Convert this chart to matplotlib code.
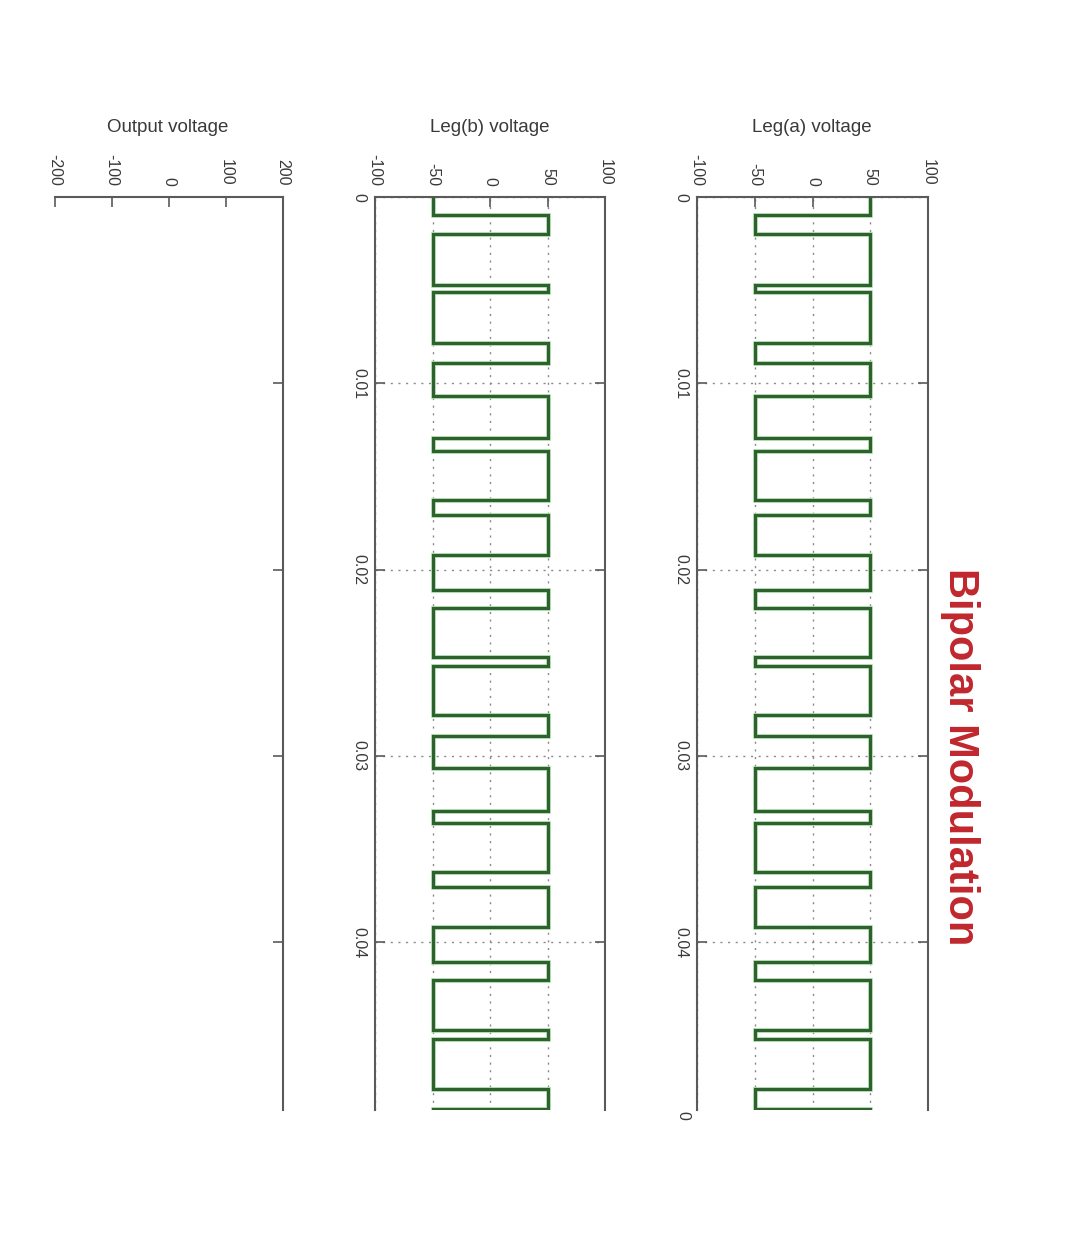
import matplotlib
matplotlib.use("Agg")
import matplotlib.pyplot as plt

plt.rcParams['font.family'] = ['Liberation Sans', 'DejaVu Sans']

# ---- data ----
# switching instants (s); first edge 0, last edge = end of plotted window
switch_edges = [0.0, 0.00097, 0.00199, 0.00473, 0.00509, 0.00785, 0.00889, 0.01068,
                0.01292, 0.01364, 0.01624, 0.01704, 0.01919, 0.02108, 0.02206,
                0.02469, 0.02516, 0.02780, 0.02892, 0.03066, 0.03294, 0.03362,
                0.03622, 0.03703, 0.03918, 0.04106, 0.04204, 0.04473, 0.04518,
                0.04786, 0.04894, 0.0490]
leg_a = [50, -50, 50, -50, 50, -50, 50, -50, 50, -50, 50, -50, 50, -50, 50,
         -50, 50, -50, 50, -50, 50, -50, 50, -50, 50, -50, 50, -50, 50, -50, 50]
leg_b = [-50, 50, -50, 50, -50, 50, -50, 50, -50, 50, -50, 50, -50, 50, -50,
         50, -50, 50, -50, 50, -50, 50, -50, 50, -50, 50, -50, 50, -50, 50, -50]

time_ticks = [0, 0.01, 0.02, 0.03, 0.04]
time_labels = ['0', '0.01', '0.02', '0.03', '0.04']
leg_ticks = [-100, -50, 0, 50, 100]
leg_labels = ['-100', '-50', '0', '50', '100']
out_ticks = [-200, -100, 0, 100, 200]
out_labels = ['-200', '-100', '0', '100', '200']
t_end = 0.049

W, H = 1070, 1253
fig = plt.figure(figsize=(W / 100, H / 100), dpi=100)
fig.patch.set_facecolor('white')

SPINE = '#5a5a5a'
TXT = '#3a3a3a'
GREEN = '#2e612e'
HALO = '#b5e6b5'


def px_axes(l, r, t, b):
    return fig.add_axes([l / W, 1 - b / H, (r - l) / W, (b - t) / H])


def style_leg(ax, data, title, cx):
    ax.stairs(data, switch_edges, orientation='horizontal', baseline=None,
              color=HALO, lw=3.4, zorder=2)
    ax.stairs(data, switch_edges, orientation='horizontal', baseline=None,
              color=GREEN, lw=2.3, zorder=3)
    ax.set_xlim(-100, 100)
    ax.set_ylim(t_end, 0)
    ax.xaxis.tick_top()
    ax.set_xticks(leg_ticks)
    ax.set_xticklabels(leg_labels)
    ax.set_yticks(time_ticks)
    ax.set_yticklabels(time_labels)
    ax.tick_params(axis='x', direction='in', length=7, width=1.2, color=SPINE,
                   labelsize=11.5, labelcolor=TXT, pad=8, top=True, bottom=False)
    ax.tick_params(axis='y', direction='in', length=7, width=1.2, color=SPINE,
                   labelsize=11.5, labelcolor=TXT, pad=6, left=True, right=True)
    for lb in ax.get_xticklabels():
        lb.set_rotation(-90)
        lb.set_va('bottom')
        lb.set_ha('center')
    for lb in ax.get_yticklabels():
        lb.set_rotation(-90)
        lb.set_va('center')
        lb.set_ha('right')
    ax.grid(True, linestyle=(0, (1.5, 4)), color='#8a8a8a', lw=1.0, zorder=1)
    for s in ['top', 'left', 'right']:
        ax.spines[s].set_color(SPINE)
        ax.spines[s].set_linewidth(1.5)
    ax.spines['bottom'].set_visible(False)
    fig.text(cx / W, 1 - 128 / H, title, ha='center', va='center',
             fontsize=13.5, color=TXT)


ax_a = px_axes(697, 928, 197, 1110)
style_leg(ax_a, leg_a, 'Leg(a) voltage', 812)
fig.text(683 / W, 1 - 1115 / H, '0', rotation=-90, ha='center', va='center',
         fontsize=11.5, color=TXT)

ax_b = px_axes(375, 605, 197, 1110)
style_leg(ax_b, leg_b, 'Leg(b) voltage', 490)

# Output voltage panel (no trace visible in the reference)
ax_c = px_axes(55, 283, 197, 1110)
ax_c.set_xlim(-200, 200)
ax_c.set_ylim(t_end, 0)
ax_c.xaxis.tick_top()
ax_c.set_xticks(out_ticks)
ax_c.set_xticklabels(out_labels)
ax_c.set_yticks(time_ticks)
ax_c.tick_params(axis='x', direction='in', length=7, width=1.2, color=SPINE,
                 labelsize=11.5, labelcolor=TXT, pad=8)
ax_c.tick_params(axis='y', direction='in', length=7, width=1.2, color=SPINE,
                 left=False, right=True, labelleft=False, labelright=False)
for lb in ax_c.get_xticklabels():
    lb.set_rotation(-90)
    lb.set_va('bottom')
    lb.set_ha('center')
ax_c.spines['left'].set_visible(False)
ax_c.spines['bottom'].set_visible(False)
for s in ['top', 'right']:
    ax_c.spines[s].set_color(SPINE)
    ax_c.spines[s].set_linewidth(1.5)
fig.text(168 / W, 1 - 128 / H, 'Output voltage', ha='center', va='center',
         fontsize=13.5, color=TXT)

fig.text(960 / W, 1 - 757 / H, 'Bipolar Modulation', rotation=-90,
         ha='center', va='center', fontsize=30, fontweight='bold',
         color='#c0272d')

fig.savefig('out.png', dpi=100, facecolor='white')
